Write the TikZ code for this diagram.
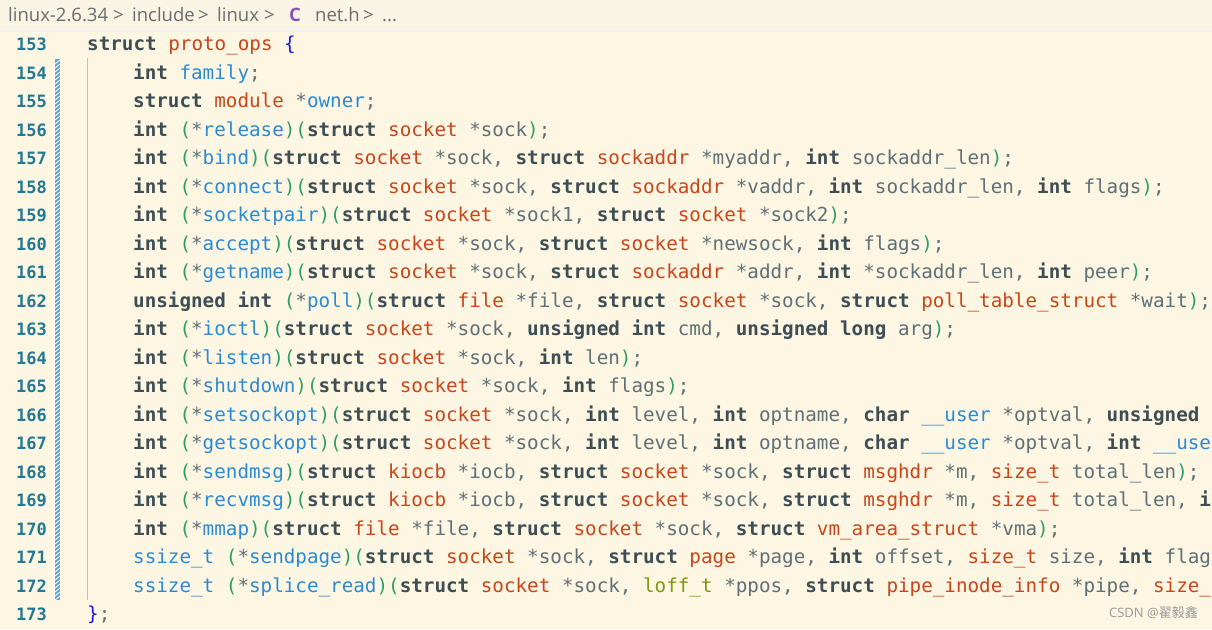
\documentclass[tikz,border=0pt]{standalone}
\usepackage{fontspec}
\setmainfont{Open Sans}
\newfontfamily\codefont{DejaVu Sans Mono}
\newfontfamily\cjkfont{Noto Sans CJK SC}
\definecolor{bg}{HTML}{FDF6E3}
\definecolor{hdr}{HTML}{FAF4E4}
\definecolor{kw}{HTML}{3E4E55}
\definecolor{ty}{HTML}{C8461A}
\definecolor{fn}{HTML}{2B8AD4}
\definecolor{pa}{HTML}{2E9E6A}
\definecolor{tx}{HTML}{5E7078}
\definecolor{ln}{HTML}{237893}
\definecolor{br}{HTML}{1A1AEF}
\definecolor{ol}{HTML}{7C9A10}
\newcommand\K[1]{{\bfseries\color{kw}#1}}
\newcommand\T[1]{{\color{ty}#1}}
\newcommand\F[1]{{\color{fn}#1}}
\newcommand\Po{{\color{pa}(}}
\newcommand\Pc{{\color{pa})}}
\newcommand\SO{\K{struct} \T{socket}}
\tikzset{code/.style={anchor=base west,inner sep=0pt,font=\codefont\fontsize{19.25}{20}\selectfont,text=tx},
 lnum/.style={anchor=base east,inner sep=0pt,font=\codefont\bfseries\fontsize{17}{18}\selectfont,text=ln},
 crumb/.style={anchor=base west,inner sep=0pt,font=\fontsize{18.5}{20}\selectfont,text=gray!85!black}}
\begin{document}
\begin{tikzpicture}[x=1pt,y=-1pt]
\useasboundingbox (0,0) rectangle (1212,629);
\clip (0,0) rectangle (1212,629);
\fill[bg] (0,0) rectangle (1212,629);
\fill[hdr] (0,0) rectangle (1212,30);
\fill[black!6] (0,30) rectangle (1212,32);
% breadcrumb
\node[crumb] (b1) at (8,21) {linux-2.6.34};
\node[crumb] (b2) at (113,21) {>};
\node[crumb] (b3) at (132,21) {include};
\node[crumb] (b4) at (198,21) {>};
\node[crumb] (b5) at (217,21) {linux};
\node[crumb] (b6) at (264,21) {>};
\node[crumb,text={rgb,255:red,140;green,80;blue,190},font=\bfseries\fontsize{18.5}{20}\selectfont] (b7) at (289,21) {C};
\node[crumb] (b8) at (315,21) {net.h};
\node[crumb] (b9) at (363,21) {>};
\node[crumb] (b10) at (382,21) {...};
% gutter
\fill[fn!75] (55,59) rectangle (60,600);
\foreach \yy in {60,64,...,598}{\draw[bg!60!white,line width=0.8pt] (55,\yy+4) -- (60,\yy);}
\draw[black!25,line width=1pt] (87,58) -- (87,600);
% line numbers
\foreach \n [count=\i from 0] in {153,...,173}{
 \node[lnum] (n\n) at (47,{50.5+28.5*\i}) {\n};
}
\node[code] (l153) at (87,50.5) {\K{struct} \T{proto\_ops} {\color{br}\{}};
\node[code] (l154) at (133,79) {\K{int} \F{family};};
\node[code] (l155) at (133,107.5) {\K{struct} \T{module} *\F{owner};};
\node[code] (l156) at (133,136) {\K{int} \Po*\F{release}\Pc\Po\SO{} *sock\Pc;};
\node[code] (l157) at (133,164.5) {\K{int} \Po*\F{bind}\Pc\Po\SO{} *sock, \K{struct} \T{sockaddr} *myaddr, \K{int} sockaddr\_len\Pc;};
\node[code] (l158) at (133,193) {\K{int} \Po*\F{connect}\Pc\Po\SO{} *sock, \K{struct} \T{sockaddr} *vaddr, \K{int} sockaddr\_len, \K{int} flags\Pc;};
\node[code] (l159) at (133,221.5) {\K{int} \Po*\F{socketpair}\Pc\Po\SO{} *sock1, \SO{} *sock2\Pc;};
\node[code] (l160) at (133,250) {\K{int} \Po*\F{accept}\Pc\Po\SO{} *sock, \SO{} *newsock, \K{int} flags\Pc;};
\node[code] (l161) at (133,278.5) {\K{int} \Po*\F{getname}\Pc\Po\SO{} *sock, \K{struct} \T{sockaddr} *addr, \K{int} *sockaddr\_len, \K{int} peer\Pc;};
\node[code] (l162) at (133,307) {\K{unsigned} \K{int} \Po*\F{poll}\Pc\Po\K{struct} \T{file} *file, \SO{} *sock, \K{struct} \T{poll\_table\_struct} *wait\Pc;};
\node[code] (l163) at (133,335.5) {\K{int} \Po*\F{ioctl}\Pc\Po\SO{} *sock, \K{unsigned} \K{int} cmd, \K{unsigned} \K{long} arg\Pc;};
\node[code] (l164) at (133,364) {\K{int} \Po*\F{listen}\Pc\Po\SO{} *sock, \K{int} len\Pc;};
\node[code] (l165) at (133,392.5) {\K{int} \Po*\F{shutdown}\Pc\Po\SO{} *sock, \K{int} flags\Pc;};
\node[code] (l166) at (133,421) {\K{int} \Po*\F{setsockopt}\Pc\Po\SO{} *sock, \K{int} level, \K{int} optname, \K{char} \F{\_\_user} *optval, \K{unsigned} \K{int} optlen\Pc;};
\node[code] (l167) at (133,449.5) {\K{int} \Po*\F{getsockopt}\Pc\Po\SO{} *sock, \K{int} level, \K{int} optname, \K{char} \F{\_\_user} *optval, \K{int} \F{\_\_user} *optlen\Pc;};
\node[code] (l168) at (133,478) {\K{int} \Po*\F{sendmsg}\Pc\Po\K{struct} \T{kiocb} *iocb, \SO{} *sock, \K{struct} \T{msghdr} *m, \T{size\_t} total\_len\Pc;};
\node[code] (l169) at (133,506.5) {\K{int} \Po*\F{recvmsg}\Pc\Po\K{struct} \T{kiocb} *iocb, \SO{} *sock, \K{struct} \T{msghdr} *m, \T{size\_t} total\_len, \K{int} flags\Pc;};
\node[code] (l170) at (133,535) {\K{int} \Po*\F{mmap}\Pc\Po\K{struct} \T{file} *file, \SO{} *sock, \K{struct} \T{vm\_area\_struct} *vma\Pc;};
\node[code] (l171) at (133,563.5) {\F{ssize\_t} \Po*\F{sendpage}\Pc\Po\SO{} *sock, \K{struct} \T{page} *page, \K{int} offset, \T{size\_t} size, \K{int} flags\Pc;};
\node[code] (l172) at (133,592) {\F{ssize\_t} \Po*\F{splice\_read}\Pc\Po\SO{} *sock, {\color{ol}loff\_t} *ppos, \K{struct} \T{pipe\_inode\_info} *pipe, \T{size\_t} len, \K{unsigned} \K{int} flags\Pc;};
\node[code] (l173) at (87,620.5) {{\color{br}\}};};
\node[anchor=base east,inner sep=0pt,text=black!40,font=\fontsize{13}{14}\selectfont] (wm) at (1198,617) {CSDN @{\cjkfont 翟毅鑫}};
\end{tikzpicture}
\end{document}
